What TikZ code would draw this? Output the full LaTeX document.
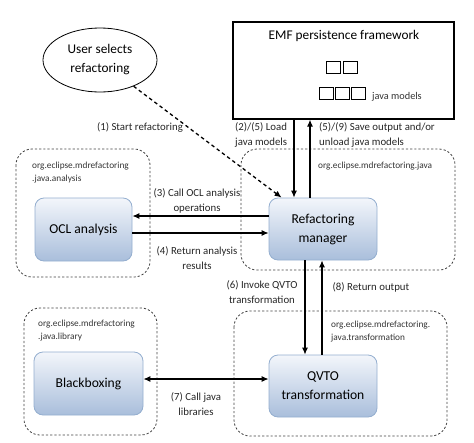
\documentclass[tikz,border=0pt]{standalone}
\usepackage{fontspec}
\setmainfont{Carlito}
\usetikzlibrary{shapes.geometric,arrows.meta,calc}
\begin{document}
\begin{tikzpicture}[x=1pt,y=-1pt,
  comp/.style={draw=boxblue, line width=0.8pt, rounded corners=9pt, top color=boxtop, bottom color=boxbot,
    minimum width=#1, inner sep=0pt, align=center, font=\fontsize{13.6}{19}\selectfont},
  comp/.default=108pt,
  pkg/.style={draw=black!75, dashed, dash pattern=on 2.2pt off 2pt, line width=0.8pt, rounded corners=16pt},
  pkglabel/.style={anchor=west, align=left, inner sep=0pt, font=\fontsize{9.3}{13}\selectfont, text=black!80},
  elabel/.style={inner sep=0pt, align=center, font=\fontsize{10.8}{15}\selectfont, text=black!85},
  arr/.style={line width=1.1pt, -{Latex[length=7pt,width=6pt]}},
  sq/.style={draw, line width=1pt, minimum width=14.5pt, minimum height=12pt, inner sep=0pt}
]
\definecolor{boxblue}{HTML}{94AECF}
\definecolor{boxtop}{HTML}{F3F6FB}
\definecolor{boxbot}{HTML}{A9BEDB}
\useasboundingbox (0,0) rectangle (474,442);

% package regions
\draw[pkg] (16,149) rectangle (150,277);
\draw[pkg] (241,149) rectangle (455,270);
\draw[pkg] (24,308) rectangle (157,435);
\draw[pkg] (234,311) rectangle (447,436);

\node[pkglabel] (pa) at (32,173) {org.eclipse.mdrefactoring\\.java.analysis};
\node[pkglabel] (pj) at (318,166) {org.eclipse.mdrefactoring.java};
\node[pkglabel] (pl) at (38,331) {org.eclipse.mdrefactoring\\.java.library};
\node[pkglabel] (pt) at (331,332) {org.eclipse.mdrefactoring.\\java.transformation};

% EMF box
\node[draw, line width=1.3pt, minimum width=221pt, minimum height=97pt, inner sep=0pt] (emf) at (343.5,70.5) {};
\node[font=\fontsize{13.3}{14}\selectfont, inner sep=0pt] (emft) at (344,36) {EMF persistence framework};
\node[sq] (s1) at (333.5,67) {};
\node[sq] (s2) at (350.5,67) {};
\node[sq] (s3) at (326.5,93.5) {};
\node[sq] (s4) at (342.5,93.5) {};
\node[sq] (s5) at (358.5,93.5) {};
\node[anchor=west, inner sep=0pt, font=\fontsize{10.3}{10}\selectfont, text=black!80] (jm) at (372,97) {java models};

% user ellipse
\node[draw, ellipse, line width=0.8pt, minimum width=114pt, minimum height=64pt, inner sep=0pt, align=center,
  font=\fontsize{13.3}{19}\selectfont] (user) at (100,60) {User selects\\refactoring};

% components
\node[comp, minimum height=62pt] (rm) at (323,229) {Refactoring\\manager};
\node[comp=97pt, minimum height=63pt] (ocl) at (83.5,229.5) {OCL analysis};
\node[comp=109pt, minimum height=63pt] (bb) at (88.5,383.5) {Blackboxing};
\node[comp, minimum height=62pt] (qvto) at (323,386) {QVTO\\transformation};

% connectors
\draw[line width=1.3pt, dashed, dash pattern=on 3.5pt off 3pt, -{Latex[length=7pt,width=6pt]}]
  (user.-38) -- ([xshift=13pt]rm.north west);
\draw[arr] (emf.south -| 294,0) -- (rm.north -| 294,0);
\draw[arr] (rm.north -| 310,0) -- (emf.south -| 310,0);
\draw[arr] (rm.west |- 0,216) -- (ocl.east |- 0,216);
\draw[arr] (ocl.east |- 0,233) -- (rm.west |- 0,233);
\draw[arr] (rm.south -| 305,0) -- (qvto.north -| 305,0);
\draw[arr] (qvto.north -| 322,0) -- (rm.south -| 322,0);
\draw[line width=1.1pt, {Latex[length=7pt,width=6pt]}-{Latex[length=7pt,width=6pt]}] (bb.east |- 0,379) -- (qvto.west |- 0,379);

% edge labels
\node[elabel] (l1) at (140,127) {(1) Start refactoring};
\node[elabel, anchor=west, align=left] (l2) at (235,134.5) {(2)/(5) Load\\java models};
\node[elabel, anchor=west, align=left] (l5) at (319,134.5) {(5)/(9) Save output and/or\\unload java models};
\node[elabel] (l3) at (197,201) {(3) Call OCL analysis\\operations};
\node[elabel] (l4) at (197,258) {(4) Return analysis\\results};
\node[elabel] (l6) at (262,292) {(6) Invoke QVTO\\transformation};
\node[elabel] (l8) at (371,287) {(8) Return output};
\node[elabel] (l7) at (196,404) {(7) Call java\\libraries};
\end{tikzpicture}
\end{document}
